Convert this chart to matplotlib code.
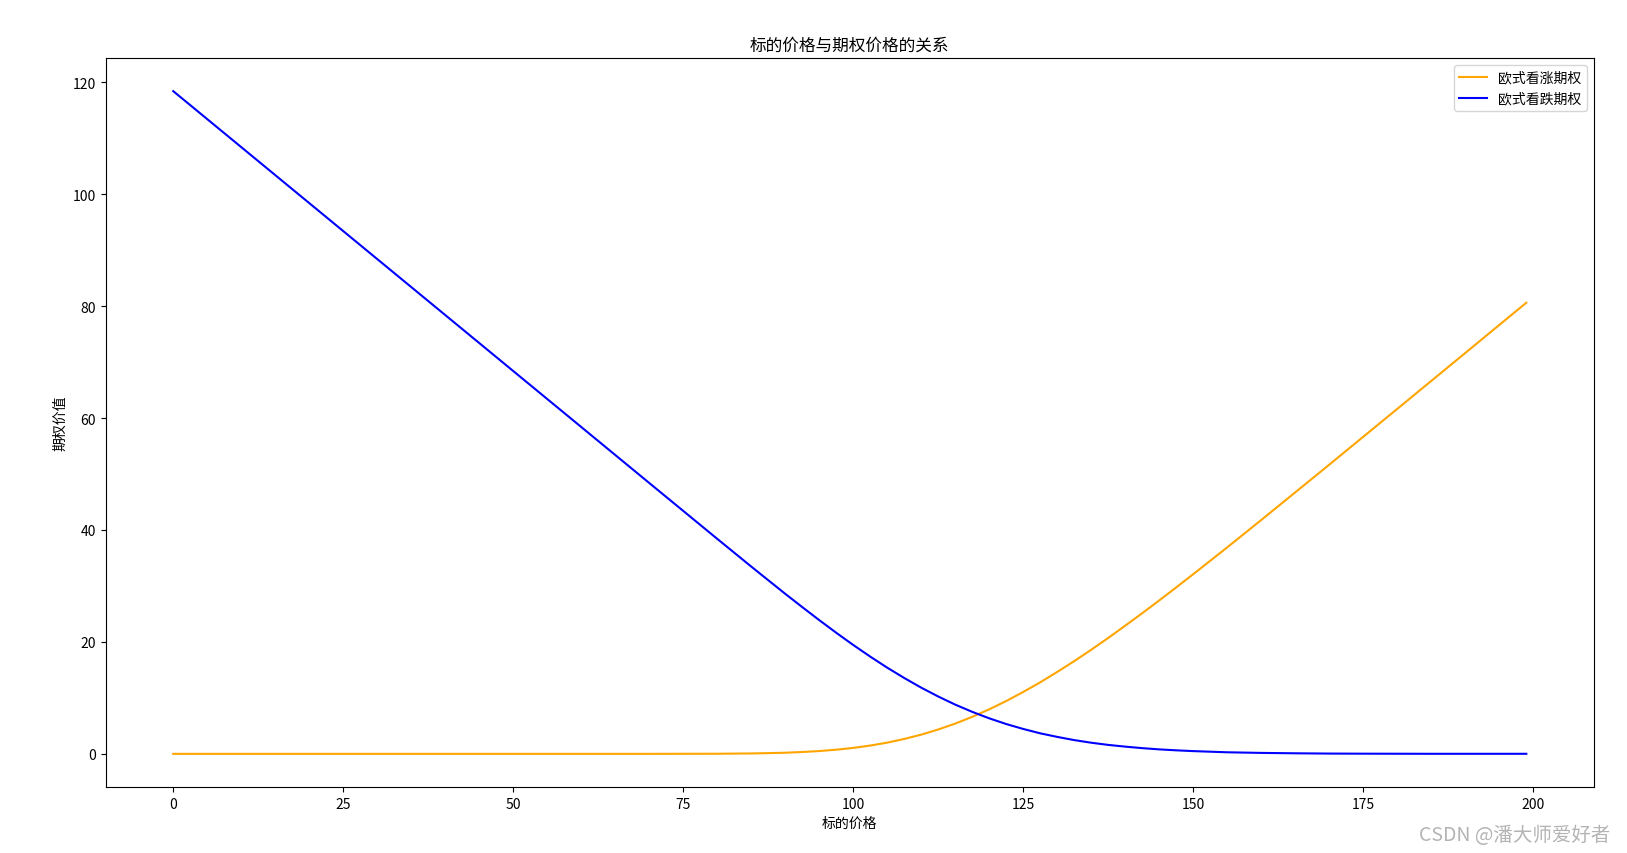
import matplotlib
matplotlib.use("Agg")
import matplotlib.pyplot as plt

plt.rcParams['font.family'] = ['Noto Sans CJK SC', 'DejaVu Sans']
plt.rcParams['axes.unicode_minus'] = False

# underlying price samples
spot = [0, 5, 10, 15, 20, 25, 30, 35, 40, 45, 50, 55, 60, 65, 70, 75,
        80, 85, 87.5, 90, 92.5, 95, 97.5, 100, 102.5, 105, 107.5, 110,
        112.5, 115, 117.5, 120, 122.5, 125, 127.5, 130, 132.5, 135, 137.5,
        140, 142.5, 145, 147.5, 150, 155, 160, 165, 170, 175, 180, 185,
        190, 195, 199]

# European call values
call_vals = [0.00, 0.00, 0.00, 0.00, 0.00, 0.00, 0.00, 0.00, 0.00, 0.00,
             0.00, 0.00, 0.00, 0.00, 0.00, 0.01,
             0.02, 0.07, 0.13, 0.20, 0.33, 0.50, 0.74, 1.06, 1.48, 2.00,
             2.66, 3.43, 4.35, 5.40, 6.61, 7.95, 9.43, 11.05, 12.77, 14.63,
             16.56, 18.59, 20.70, 22.89, 25.12, 27.40, 29.73, 32.09, 36.88,
             41.77, 46.70, 51.65, 56.63, 61.61, 66.61, 71.60, 76.60, 80.60]

# European put values
put_vals = [118.40, 113.40, 108.40, 103.40, 98.40, 93.40, 88.40, 83.40,
            78.40, 73.40, 68.40, 63.40, 58.40, 53.40, 48.40, 43.41,
            38.42, 33.47, 31.03, 28.60, 26.23, 23.90, 21.64, 19.46, 17.38,
            15.40, 13.56, 11.83, 10.25, 8.80, 7.51, 6.35, 5.33, 4.45, 3.67,
            3.03, 2.46, 1.99, 1.60, 1.29, 1.02, 0.80, 0.63, 0.49, 0.28,
            0.17, 0.10, 0.05, 0.03, 0.02, 0.01, 0.01, 0.01, 0.01]

series_names = ['欧式看涨期权', '欧式看跌期权']
title = '标的价格与期权价格的关系'
xlabel = '标的价格'
ylabel = '期权价值'

fig = plt.figure(figsize=(16.27, 8.54), dpi=100)
ax = fig.add_axes([0.0649, 0.0773, 0.9148, 0.8536])

ax.plot(spot, call_vals, color='orange', label=series_names[0])
ax.plot(spot, put_vals, color='blue', label=series_names[1])

ax.set_title(title, fontsize=12)
ax.set_xlabel(xlabel, fontsize=10)
ax.set_ylabel(ylabel, fontsize=10)
ax.legend(loc='upper right', fontsize=10)

fig.text(0.990, 0.022, 'CSDN @潘大师爱好者', ha='right', va='center',
         fontsize=14, color='#b4b4b4')

fig.savefig('out.png', dpi=100)
